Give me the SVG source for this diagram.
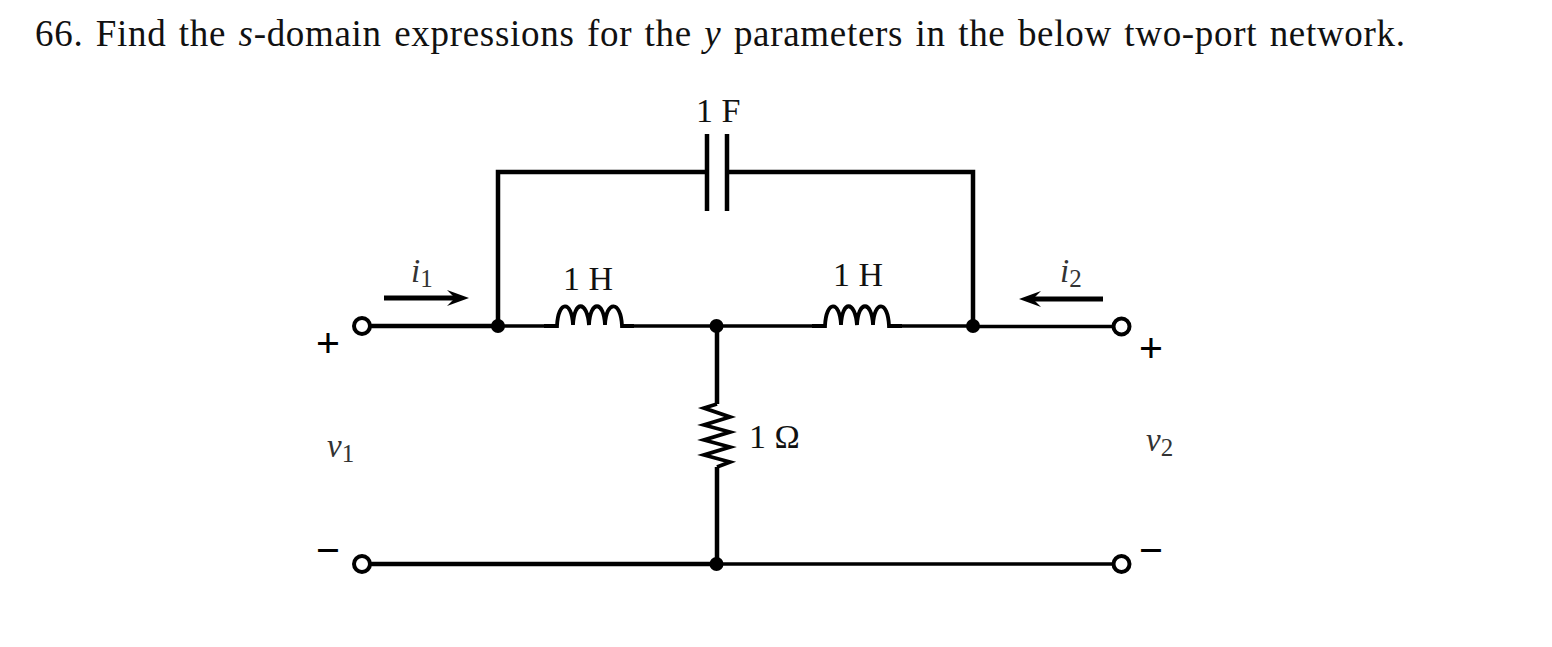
<svg xmlns="http://www.w3.org/2000/svg" width="1552" height="647" viewBox="0 0 1552 647">
<style>
text{font-family:"Liberation Serif","Times New Roman",serif;fill:#111}
.t{font-size:37px;word-spacing:2.500px}
.l{font-size:34px}
.v{font-size:33px;font-style:italic;fill:#333}
.s{font-size:25px}
.sign{font-family:"Liberation Sans",Arial,sans-serif;font-size:41px;fill:#000}
.w{fill:none;stroke:#000;stroke-width:4.5;stroke-linecap:butt;stroke-linejoin:miter}
.thin{fill:none;stroke:#000;stroke-width:3.500}
.r{fill:none;stroke:#000;stroke-width:3.800;stroke-linejoin:miter}
.a{fill:none;stroke:#000;stroke-width:5}
.h{fill:#000}
.dot{fill:#000}
.term{fill:#fff;stroke:#000;stroke-width:4}
</style>
<rect width="1552" height="647" fill="#fff"/>
<text id="title" class="t" x="35" y="46" textLength="1370" lengthAdjust="spacing">66. Find the <tspan font-style="italic">s</tspan>-domain expressions for the <tspan font-style="italic">y</tspan> parameters in the below two-port network.</text>
<g id="connectors">
<path class="w" d="M498 326V172H707M727 172H973V326"/>
<path class="w" d="M371 326H497"/>
<path class="thin" d="M497 326H544"/>
<path class="thin" d="M634 326H716"/>
<path class="thin" d="M716 326H812"/>
<path class="thin" d="M902 326H973"/>
<path class="thin" d="M973 326.500H1113"/>
<path class="w" d="M717 326V404M717 467V564"/>
<path class="w" d="M370 564H716"/>
<path class="thin" d="M716 564H1113"/>
</g>
<g id="capacitor-1F"><path class="w" d="M707 134V211M727 134V211"/><text class="l" x="696" y="122">1 F</text></g>
<g id="inductor-L1"><path class="r" d="M544 326H557C558 300 572 300 573 325C574 300 587 300 589 325C590 300 604 300 605 325C606 300 621 300 622 326H634"/><text class="l" x="563" y="290">1 H</text></g>
<g id="inductor-L2"><path class="r" d="M812 326H825C826 300 840 300 841 325C842 300 855 300 857 325C858 300 872 300 873 325C874 300 888 300 889 326H902"/><text class="l" x="833" y="286">1 H</text></g>
<g id="resistor-R"><path class="r" d="M717 404L704 408L730 417L704 425L730 432L704 440L730 447L704 455L730 462L717 467"/><text class="l" x="749" y="448">1 Ω</text></g>
<g id="junction-a"><circle class="dot" cx="498" cy="326" r="7"/></g>
<g id="junction-b"><circle class="dot" cx="716.500" cy="326" r="7"/></g>
<g id="junction-c"><circle class="dot" cx="973" cy="326" r="7"/></g>
<g id="junction-d"><circle class="dot" cx="716.500" cy="564" r="7"/></g>
<g id="terminal-1p"><circle class="term" cx="362" cy="326" r="8"/><text class="sign" x="316" y="357">+</text></g>
<g id="terminal-1n"><circle class="term" cx="362" cy="564" r="8"/><text class="sign" x="316" y="564">−</text></g>
<g id="terminal-2p"><circle class="term" cx="1121.500" cy="326.500" r="8"/><text class="sign" x="1139" y="362">+</text></g>
<g id="terminal-2n"><circle class="term" cx="1121.500" cy="564" r="8"/><text class="sign" x="1139" y="564">−</text></g>
<g id="current-i1"><path class="a" d="M384 298H460"/><path class="h" d="M469 298L447 290L455 298L447 306Z"/><text class="v" x="411" y="282">i<tspan class="s" dy="5" font-style="normal">1</tspan></text></g>
<g id="current-i2"><path class="a" d="M1103 299H1028"/><path class="h" d="M1019 299L1041 291L1033 299L1041 307Z"/><text class="v" x="1060" y="282">i<tspan class="s" dy="5" font-style="normal">2</tspan></text></g>
<g id="voltage-v1"><text class="v" x="327" y="457">v<tspan class="s" dy="5" font-style="normal">1</tspan></text></g>
<g id="voltage-v2"><text class="v" x="1146" y="451">v<tspan class="s" dy="5" font-style="normal">2</tspan></text></g>
</svg>
